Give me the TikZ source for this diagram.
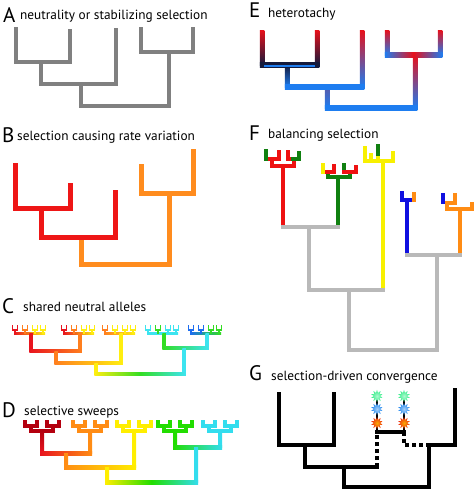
\documentclass[tikz,border=0pt]{standalone}
\usepackage{fontspec}
\setmainfont{PT Sans}
\usetikzlibrary{shapes.geometric}
\definecolor{agray}{HTML}{808080}
\definecolor{bred}{HTML}{EE1616}
\definecolor{borange}{HTML}{FF8C1E}
\definecolor{cred}{HTML}{E8141E}
\definecolor{corange}{HTML}{FF7F1E}
\definecolor{cyellow}{HTML}{FFEE10}
\definecolor{cgreen}{HTML}{33DD22}
\definecolor{ccyan}{HTML}{3CE4F0}
\definecolor{cblue}{HTML}{1E6EF0}
\definecolor{ddark}{HTML}{B4000F}
\definecolor{dred}{HTML}{E8141E}
\definecolor{dorange}{HTML}{FF8C14}
\definecolor{dyellow}{HTML}{FFEE00}
\definecolor{dgreen}{HTML}{22DD00}
\definecolor{dcyan}{HTML}{33DDEE}
\definecolor{ered}{HTML}{E8101A}
\definecolor{eblue}{HTML}{1E7DF0}
\definecolor{enavy}{HTML}{141A3C}
\definecolor{epurple}{HTML}{5A5AA8}
\definecolor{fgray}{HTML}{B9B9B9}
\definecolor{fred}{HTML}{EE1111}
\definecolor{fgreen}{HTML}{108010}
\definecolor{fyellow}{HTML}{F8F000}
\definecolor{fblue}{HTML}{1010E0}
\definecolor{forange}{HTML}{FF8C14}
\definecolor{gstarg}{HTML}{33EE88}
\definecolor{gstarb}{HTML}{2288EE}
\definecolor{gstarr}{HTML}{EE2A10}
% half width of a shaded branch
\newcommand{\hw}{2}
\newcommand{\vbranch}[5]{\shade[top color=#4,bottom color=#5] ({#1-\hw},{#2}) rectangle ({#1+\hw},{#3});}
\newcommand{\hbranch}[5]{\shade[left color=#4,right color=#5] ({#2-\hw},{#1-\hw}) rectangle ({#3+\hw},{#1+\hw});}
\newcommand{\hbranchm}[6]{\shade[left color=#4,right color=#6,middle color=#5] ({#2-\hw},{#1-\hw}) rectangle ({#3+\hw},{#1+\hw});}
% small U with two tips: centre, half width, bar y, style
\newcommand{\miniU}[4]{\draw[#4] (#1-#2,#3-4) -- (#1-#2,#3) -- (#1+#2,#3) -- (#1+#2,#3-4) (#1,#3) -- (#1,#3+3);}
% clades of panel C and D
\newcommand{\cclade}[4]{%
  \shade[left color=#2,right color=#4] (#1-17,332.2) rectangle (#1+14,334);
  \miniU{#1-16}{2.5}{330}{ctip,#2}
  \miniU{#1-6}{2.5}{330}{ctip,#3}
  \miniU{#1+4}{2.5}{330}{ctip,#4}
  \miniU{#1+12}{2.5}{330}{ctip,#4}}
\newcommand{\dclade}[2]{%
  \draw[dtip,#2] (#1-11,426) -- (#1-11,431) -- (#1+11,431) -- (#1+11,426);
  \draw[dtip,#2] (#1-17,422) -- (#1-17,426) -- (#1-5,426) -- (#1-5,422);
  \draw[dtip,#2] (#1+5,422) -- (#1+5,426) -- (#1+17,426) -- (#1+17,422);}

\begin{document}
\begin{tikzpicture}[x=1pt,y=-1pt,
  lbl/.style={font=\fontsize{21}{21}\selectfont, anchor=base west, inner sep=0pt},
  ttl/.style={font=\fontsize{13.3}{13.3}\selectfont, anchor=base west, inner sep=0pt},
  br/.style={line cap=rect, line join=miter},
  abr/.style={br, agray, line width=4.3pt},
  bbr/.style={br, line width=5pt},
  ctip/.style={br, line width=1.7pt},
  dtip/.style={br, line width=3.2pt},
  fbr/.style={br, line width=4pt},
  ftip/.style={br, line width=3.2pt},
  gbr/.style={br, line width=4pt},
  gdash/.style={line width=4pt, dash pattern=on 4pt off 3pt},
  gstar/.style={star, star points=10, star point ratio=1.9, minimum size=12.5pt, inner sep=0pt, draw=none}
]
\useasboundingbox (0,0) rectangle (474,490);

% A neutrality
\node[lbl] (labA) at (3,22) {A};
\node[ttl] (ttlA) at (20,19.5) {neutrality or stabilizing selection};
\draw[abr] (16,29) -- (16,62) -- (70,62) -- (70,31);
\draw[abr] (41,62) -- (41,84) -- (116,84) -- (116,30);
\draw[abr] (141,29) -- (141,52) -- (193,52) -- (193,29);
\draw[abr] (81,84) -- (81,106) -- (169,106) -- (169,52);

% B rate variation
\node[lbl] (labB) at (2,142) {B};
\node[ttl] (ttlB) at (17,140) {selection causing rate variation};
\draw[bbr, borange] (141,166) -- (141,193) -- (193,193) -- (193,151);
\draw[bbr, borange] (81,237) -- (81,264) -- (169,264) -- (169,193);
\draw[bbr, bred] (15,165) -- (15,208) -- (70,208) -- (70,185);
\draw[bbr, bred] (41,208) -- (41,237) -- (115,237) -- (115,192);

% C shared neutral alleles
\node[lbl] (labC) at (2,313) {C};
\node[ttl] (ttlC) at (23,311) {shared neutral alleles};
\renewcommand{\hw}{1.75}
\cclade{31}{cred}{corange}{cyellow}
\cclade{80}{cred}{corange}{cyellow}
\cclade{121}{corange}{cyellow}{cyellow}
\cclade{164}{ccyan}{cgreen}{ccyan}
\cclade{207}{cblue}{cblue}{cgreen}
\vbranch{31}{333}{351}{cred}{cred}
\vbranch{80}{333}{351}{corange}{corange}
\hbranch{351}{31}{80}{cred}{corange}
\vbranch{56}{351}{363}{corange}{corange}
\vbranch{121}{333}{363}{cyellow}{cyellow}
\hbranch{363}{56}{121}{corange}{cyellow}
\vbranch{96}{363}{374}{cyellow}{cyellow}
\vbranch{164}{333}{348}{cgreen}{cgreen}
\vbranch{207}{333}{348}{ccyan}{ccyan}
\hbranch{348}{164}{207}{cgreen}{ccyan}
\vbranch{184}{348}{374}{ccyan}{ccyan}
\hbranchm{374}{96}{184}{cyellow}{cgreen}{ccyan}

% D selective sweeps
\node[lbl] (labD) at (2,417) {D};
\node[ttl] (ttlD) at (24,415) {selective sweeps};
\renewcommand{\hw}{2}
\dclade{42}{ddark}
\dclade{90}{dorange}
\dclade{134}{dyellow}
\dclade{175}{dgreen}
\dclade{220}{dcyan}
\vbranch{42}{431}{453}{ddark}{dred}
\vbranch{90}{431}{453}{dorange}{dorange}
\hbranch{453}{42}{90}{dred}{dorange}
\vbranch{66}{453}{467}{dorange}{dorange}
\vbranch{134}{431}{467}{dyellow}{dyellow}
\hbranch{467}{66}{134}{dorange}{dyellow}
\vbranch{107}{467}{482}{dyellow}{dyellow}
\vbranch{175}{431}{447}{dgreen}{dgreen}
\vbranch{220}{431}{447}{dcyan}{dcyan}
\hbranch{447}{175}{220}{dgreen}{dcyan}
\vbranch{196}{447}{482}{dcyan}{dcyan}
\hbranchm{482}{107}{196}{dyellow}{dgreen}{dcyan}

% E heterotachy
\node[lbl] (labE) at (249,17) {E};
\node[ttl] (ttlE) at (268,17) {heterotachy};
\renewcommand{\hw}{2.25}
\vbranch{262}{30}{65}{ered}{enavy}
\vbranch{317}{30}{65}{ered}{enavy}
\vbranch{287}{65}{87}{enavy}{eblue}
\vbranch{362}{30}{87}{ered}{eblue}
\vbranch{327}{87}{108}{epurple}{eblue}
\vbranch{387}{30}{55}{ered}{eblue}
\vbranch{440}{30}{55}{ered}{eblue}
\vbranch{415}{55}{108}{ered}{eblue}
\hbranch{65}{262}{317}{enavy}{enavy}
\fill[eblue] (264,64.8) rectangle (315,67.25);
\hbranch{87}{287}{362}{eblue}{eblue}
\hbranch{108}{327}{415}{eblue}{eblue}
\hbranchm{55}{387}{440}{eblue}{ered}{eblue}

% F balancing selection
\node[lbl] (labF) at (249,140) {F};
\node[ttl] (ttlF) at (268,138) {balancing selection};
% red clade
\draw[ftip, fred] (272,159) -- (272,166) -- (294,166) -- (294,159);
\draw[ftip, fred] (266,159) -- (279,159) -- (279,152);
\draw[ftip, fgreen] (266,159) -- (266,151);
\draw[ftip, fred] (288,152) -- (288,159) -- (293,159);
\draw[ftip, fgreen] (293,159) -- (299,159) -- (299,153);
\draw[fbr, fred] (283,166) -- (283,227);
% green clade
\draw[ftip, fgreen] (328,172) -- (328,177) -- (350,177) -- (350,172);
\draw[ftip, fred] (324,172) -- (334,172) -- (334,166);
\draw[ftip, fyellow] (323,172) -- (323,165);
\draw[ftip, fgreen] (344,172) -- (344,165);
\draw[ftip, fred] (344,172) -- (356,172) -- (356,167);
\draw[fbr, fgreen] (338,177) -- (338,227);
% yellow clade
\draw[ftip, fyellow] (365,148) -- (365,161) -- (393,161) -- (393,153);
\draw[ftip, fyellow] (371,155) -- (371,161);
\draw[ftip, fyellow] (378,154) -- (378,161);
\draw[ftip, fgreen] (378,146) -- (378,154);
\draw[fbr, fyellow] (383,161) -- (383,290);
% blue clade
\draw[ftip, fblue] (402,200) -- (414,200);
\draw[ftip, fblue, line width=4.2pt] (402,193) -- (402,200);
\draw[ftip, forange] (414,200) -- (414,194);
\draw[fbr, fblue] (407,200) -- (407,255);
% orange clade
\draw[ftip, forange] (447,203) -- (447,209) -- (472,209) -- (472,204);
\draw[ftip, forange] (447,203) -- (455,203) -- (455,195);
\draw[ftip, fblue, line width=4.2pt] (443,195) -- (443,202);
\draw[fbr, forange] (460,209) -- (460,255);
% gray backbone
\draw[fbr, fgray] (283,227) -- (338,227);
\draw[fbr, fgray] (309,227) -- (309,290) -- (383,290);
\draw[fbr, fgray] (407,255) -- (460,255);
\draw[fbr, fgray] (349,290) -- (349,350) -- (437,350) -- (437,255);

% G convergence
\node[lbl] (labG) at (249,380) {G};
\node[ttl] (ttlG) at (271,380) {selection-driven convergence};
\coordinate (g3) at (377,432);
\coordinate (g4) at (404,432);
\draw[line width=1.6pt] (g3) -- (377,395);
\draw[line width=1.6pt] (g4) -- (404,395);
\draw[gbr] (279,394) -- (279,445) -- (334,445) -- (334,394);
\draw[gbr] (305,445) -- (305,467) -- (377,467);
\draw[gdash] (377,467) -- (g3);
\draw[gbr] (g3) -- (g4);
\draw[gdash] (g4) -- (404,445) -- (429,445);
\draw[gbr] (429,445) -- (455,445) -- (455,390);
\draw[gbr] (344,467) -- (344,487) -- (429,487) -- (429,445);
\foreach \gx/\gn in {377/a, 404/b} {
  \node[gstar, inner color=gstarg!40!white, outer color=gstarg] (sg\gn) at (\gx,396) {};
  \node[gstar, inner color=gstarb!40!white, outer color=gstarb] (sb\gn) at (\gx,409) {};
  \node[gstar, inner color=gstarr!40!yellow, outer color=gstarr] (sr\gn) at (\gx,423) {};
}
\end{tikzpicture}
\end{document}
